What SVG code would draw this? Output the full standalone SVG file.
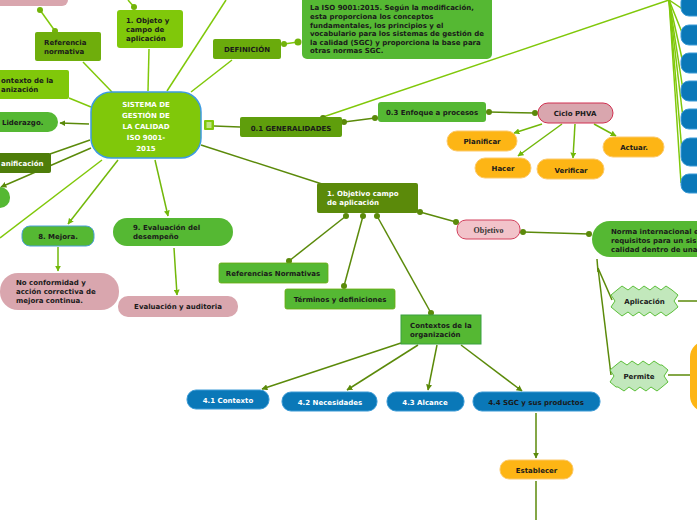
<svg xmlns="http://www.w3.org/2000/svg" width="697" height="520" viewBox="0 0 697 520">
<defs>
<marker id="ao" viewBox="0 0 10 10" refX="9" refY="5" markerWidth="6" markerHeight="6" orient="auto-start-reverse" markerUnits="userSpaceOnUse"><path d="M0,0 L10,5 L0,10 z" fill="#5b8a0a"/></marker>
<marker id="al" viewBox="0 0 10 10" refX="9" refY="5" markerWidth="6" markerHeight="6" orient="auto-start-reverse" markerUnits="userSpaceOnUse"><path d="M0,0 L10,5 L0,10 z" fill="#72b80a"/></marker>
<style>
text{font-family:"DejaVu Sans","Liberation Sans",sans-serif;font-weight:bold;font-size:7px;fill:#1a1a1a}
.c{text-anchor:middle}
.w{fill:#ffffff}
.mid{fill:#55b833}
.pink{fill:#d9a6ae}
.orange{fill:#fdb515;stroke:#fcc96a;stroke-width:1}
.blue{fill:#0a78b8;stroke:#3a9ad6;stroke-width:1}
.lo{stroke:#5b8a0a;stroke-width:1.5;fill:none}
.ll{stroke:#80c80a;stroke-width:1.5;fill:none}
.la{stroke:#72b80a;stroke-width:1.5;fill:none}
.dot{fill:#5b8a0a}
.dotl{fill:#72b30a}
</style>
</defs>

<g id="connectors">
<line class="ll" x1="167" y1="91" x2="226" y2="0"/>
<line class="ll" x1="149" y1="49" x2="148" y2="91"/>
<line class="ll" x1="83" y1="62" x2="112" y2="92"/>
<line class="ll" x1="191" y1="92" x2="232" y2="60"/>
<line class="ll" x1="69" y1="98" x2="91" y2="107"/>
<line class="lo" x1="89" y1="124" x2="60" y2="123" marker-end="url(#ao)"/>
<line class="lo" x1="90" y1="140" x2="50" y2="154"/>
<line class="lo" x1="91" y1="148" x2="1" y2="187" marker-end="url(#ao)"/>
<line class="ll" x1="102" y1="160" x2="0" y2="238"/>
<line class="la" x1="118" y1="160" x2="68" y2="224" marker-end="url(#al)"/>
<line class="la" x1="155" y1="160" x2="168" y2="216" marker-end="url(#al)"/>
<line class="lo" x1="201" y1="145" x2="322" y2="184"/>
<line class="lo" x1="214" y1="126" x2="240" y2="127"/>
<line class="ll" x1="40" y1="10" x2="55" y2="31"/>
<line class="ll" x1="134" y1="7" x2="128" y2="0"/>
<line class="ll" x1="284" y1="44" x2="298" y2="42"/>
<line class="la" x1="58" y1="247" x2="58" y2="271" marker-end="url(#al)"/>
<line class="la" x1="174" y1="248" x2="177" y2="295" marker-end="url(#al)"/>
<line class="ll" x1="323" y1="117" x2="669" y2="0"/>
<line class="lo" x1="344" y1="122" x2="375" y2="118"/>
<line class="lo" x1="489" y1="112" x2="535" y2="113"/>
<line class="ll" x1="669" y1="0" x2="684" y2="10"/>
<line class="ll" x1="669" y1="0" x2="683" y2="35"/>
<line class="ll" x1="669" y1="0" x2="683" y2="63"/>
<line class="ll" x1="669" y1="0" x2="683" y2="90"/>
<line class="ll" x1="669" y1="0" x2="683" y2="118"/>
<line class="ll" x1="669" y1="0" x2="682" y2="152"/>
<line class="ll" x1="669" y1="0" x2="681" y2="183"/>
<line class="la" x1="542" y1="124" x2="514" y2="133" marker-end="url(#al)"/>
<line class="la" x1="562" y1="124" x2="518" y2="156" marker-end="url(#al)"/>
<line class="la" x1="575" y1="124" x2="573" y2="158" marker-end="url(#al)"/>
<line class="la" x1="594" y1="124" x2="616" y2="136" marker-end="url(#al)"/>
<line class="lo" x1="346" y1="216" x2="289" y2="261"/>
<line class="lo" x1="363" y1="216" x2="344" y2="286"/>
<line class="lo" x1="377" y1="216" x2="431" y2="313"/>
<line class="lo" x1="420" y1="212" x2="456" y2="222"/>
<line class="lo" x1="523" y1="232" x2="589" y2="234"/>
<line class="lo" x1="597" y1="259" x2="598" y2="272"/>
<line class="lo" x1="598" y1="268" x2="612" y2="300"/>
<line class="lo" x1="598" y1="268" x2="611" y2="375"/>
<line class="lo" x1="678" y1="301" x2="697" y2="301"/>
<line class="lo" x1="668" y1="375" x2="691" y2="375"/>
<line class="lo" x1="401" y1="343" x2="262" y2="389" marker-end="url(#ao)"/>
<line class="lo" x1="418" y1="345" x2="347" y2="390" marker-end="url(#ao)"/>
<line class="lo" x1="437" y1="345" x2="428" y2="390" marker-end="url(#ao)"/>
<line class="lo" x1="461" y1="345" x2="522" y2="391" marker-end="url(#ao)"/>
<line class="lo" x1="536" y1="413" x2="536" y2="458" marker-end="url(#ao)"/>
<line class="lo" x1="536" y1="481" x2="536" y2="520"/>
<circle class="dotl" cx="40" cy="10" r="3"/>
<circle class="dotl" cx="55" cy="31" r="3"/>
<circle class="dotl" cx="134" cy="7" r="3"/>
<circle class="dotl" cx="284" cy="44" r="3"/>
<circle class="dotl" cx="298" cy="42" r="3.5"/>
<circle class="dot" cx="323" cy="118" r="3"/>
<circle class="dot" cx="344" cy="122" r="3"/>
<circle class="dot" cx="375" cy="118" r="3"/>
<circle class="dot" cx="489" cy="112" r="3"/>
<circle class="dot" cx="535" cy="113" r="3"/>
<circle class="dot" cx="346" cy="216" r="3"/>
<circle class="dot" cx="363" cy="216" r="3"/>
<circle class="dot" cx="377" cy="216" r="3"/>
<circle class="dot" cx="289" cy="261" r="3"/>
<circle class="dot" cx="344" cy="286" r="3"/>
<circle class="dot" cx="431" cy="313" r="3"/>
<circle class="dot" cx="420" cy="212" r="3"/>
<circle class="dot" cx="456" cy="222" r="3"/>
<circle class="dot" cx="523" cy="232" r="3"/>
<circle class="dot" cx="589" cy="234" r="3"/>
</g>

<g id="n-top-pink"><rect x="-10" y="-14" width="78" height="20" rx="6" class="pink"/></g>

<g id="n-central">
<rect x="91" y="92" width="110" height="66" rx="20" fill="#80c80a" stroke="#3d9be0" stroke-width="1.5"/>
<text class="c w" x="146" y="107" font-size="8.8">SISTEMA DE</text>
<text class="c w" x="146" y="118" font-size="8.8">GESTIÓN DE</text>
<text class="c w" x="146" y="129" font-size="8.8">LA CALIDAD</text>
<text class="c w" x="146" y="140" font-size="8.8">ISO 9001-</text>
<text class="c w" x="146" y="151" font-size="8.8">2015</text>
</g>

<g id="n-menu">
<rect x="204" y="120" width="10" height="10" rx="1" fill="#80c80a"/>
<path d="M206.5,123h5M206.5,125h5M206.5,127h5" stroke="#ffffff" stroke-width="1"/>
</g>

<g id="n-refnorm">
<rect x="35" y="32" width="66" height="29" rx="2" fill="#6fae0c"/>
<text x="44" y="45">Referencia</text>
<text x="44" y="54">normativa</text>
</g>

<g id="n-objeto">
<rect x="117" y="10" width="66" height="38" rx="3" fill="#80c80a"/>
<text x="126" y="23">1. Objeto y</text>
<text x="126" y="32">campo de</text>
<text x="126" y="41">aplicación</text>
</g>

<g id="n-definicion">
<rect x="213" y="39" width="68" height="20" rx="2" fill="#6aab0c"/>
<text class="c" x="247" y="52">DEFINICIÓN</text>
</g>

<g id="n-deftext">
<rect x="302" y="-8" width="190" height="67" rx="5" class="mid"/>
<text x="310" y="10" font-size="6.6">La ISO 9001:2015. Según la modificación,</text>
<text x="310" y="19" font-size="6.6">esta proporciona los conceptos</text>
<text x="310" y="27.5" font-size="6.6">fundamentales, los principios y el</text>
<text x="310" y="36" font-size="6.6">vocabulario para los sistemas de gestión de</text>
<text x="310" y="44.5" font-size="6.6">la calidad (SGC) y proporciona la base para</text>
<text x="310" y="53" font-size="6.6">otras normas SGC.</text>
</g>

<g id="n-contexto-org">
<rect x="-20" y="70" width="89" height="29" rx="2" fill="#80c80a"/>
<text x="1" y="83">ontexto de la</text>
<text x="1" y="92">anización</text>
</g>

<g id="n-liderazgo">
<rect x="-20" y="112" width="78" height="20" rx="10" class="mid"/>
<text x="2" y="125">Liderazgo.</text>
</g>

<g id="n-planificacion">
<rect x="-20" y="153" width="71" height="20" rx="2" fill="#4e7d0a"/>
<text class="w" x="1" y="166">anificación</text>
</g>

<g id="n-left-circle"><rect x="-20" y="187" width="30" height="21" rx="10" class="mid"/></g>

<g id="n-mejora">
<rect x="22" y="226" width="72" height="20" rx="8" class="mid" stroke="#4aa0d8" stroke-width="1"/>
<text class="c" x="58" y="239">8. Mejora.</text>
</g>

<g id="n-noconf">
<rect x="0" y="273" width="119" height="37" rx="18" class="pink"/>
<text x="16" y="285">No conformidad y</text>
<text x="16" y="294">acción correctiva de</text>
<text x="16" y="303">mejora continua.</text>
</g>

<g id="n-evaluacion">
<rect x="113" y="218" width="120" height="28" rx="14" class="mid"/>
<text x="133" y="230">9. Evaluación del</text>
<text x="133" y="239">desempeño</text>
</g>

<g id="n-auditoria">
<rect x="118" y="296" width="120" height="21" rx="10" class="pink"/>
<text class="c" x="178" y="309">Evaluación y auditoria</text>
</g>

<g id="n-generalidades">
<rect x="240" y="117" width="102" height="20" rx="2" fill="#5f9e0c"/>
<text class="c" x="291" y="130.5">0.1 GENERALIDADES</text>
</g>

<g id="n-enfoque">
<rect x="378" y="102" width="108" height="20" rx="3" class="mid"/>
<text class="c" x="432" y="115">0.3 Enfoque a procesos</text>
</g>

<g id="n-ciclo">
<rect x="538" y="103" width="75" height="20" rx="10" fill="#d9a6ae" stroke="#d03050" stroke-width="1"/>
<text class="c" x="575" y="116">Ciclo PHVA</text>
</g>

<g id="n-planificar"><rect x="447" y="131" width="70" height="20" rx="10" class="orange"/><text class="c" x="482" y="144">Planificar</text></g>
<g id="n-hacer"><rect x="475" y="158" width="56" height="20" rx="10" class="orange"/><text class="c" x="503" y="171">Hacer</text></g>
<g id="n-verificar"><rect x="537" y="159" width="67" height="20" rx="10" class="orange"/><text class="c" x="571" y="172.5">Verificar</text></g>
<g id="n-actuar"><rect x="603" y="137" width="61" height="20" rx="10" class="orange"/><text class="c" x="634" y="150">Actuar.</text></g>

<g id="n-blue-right">
<rect x="681" y="-6" width="30" height="22" rx="8" class="blue"/>
<rect x="681" y="25" width="30" height="20" rx="8" class="blue"/>
<rect x="681" y="53" width="30" height="20" rx="8" class="blue"/>
<rect x="681" y="81" width="30" height="20" rx="8" class="blue"/>
<rect x="681" y="109" width="30" height="20" rx="8" class="blue"/>
<rect x="681" y="138" width="30" height="28" rx="9" class="blue"/>
<rect x="681" y="174" width="30" height="19" rx="8" class="blue"/>
</g>

<g id="n-objetivo-campo">
<rect x="317" y="183" width="101" height="30" rx="2" fill="#5b8a0a"/>
<text class="w" x="327" y="196">1. Objetivo campo</text>
<text class="w" x="327" y="205">de aplicación</text>
</g>

<g id="n-refnormativas">
<rect x="219" y="263" width="109" height="20" rx="2" class="mid" stroke="#6aab0c" stroke-width="0.8"/>
<text class="c" x="273" y="276">Referencias Normativas</text>
</g>

<g id="n-terminos">
<rect x="285" y="289" width="110" height="20" rx="2" class="mid" stroke="#6aab0c" stroke-width="0.8"/>
<text class="c" x="340" y="302">Términos y definiciones</text>
</g>

<g id="n-contextos">
<rect x="401" y="315" width="80" height="29" fill="#55b833" stroke="#3aa040" stroke-width="1"/>
<text x="410" y="328">Contextos de la</text>
<text x="410" y="337">organización</text>
</g>

<g id="n-objetivo">
<rect x="457" y="220" width="63" height="19" rx="9" fill="#f2c3ca" stroke="#d2405c" stroke-width="1"/>
<text class="c" x="488.5" y="233" style="font-family:'Liberation Serif',serif;font-size:8px;fill:#333333">Objetivo</text>
</g>

<g id="n-norma">
<rect x="592" y="221" width="130" height="36" rx="18" class="mid"/>
<text x="611" y="234" font-size="6.1">Norma internacional e</text>
<text x="611" y="243" font-size="6.1">requisitos para un sis</text>
<text x="611" y="252" font-size="6.1">calidad dentro de una</text>
</g>

<g id="n-aplicacion">
<polygon points="617,290 622,286 628,290 633,286 639,290 644,286 650,290 655,286 661,290 666,286 672,290 678,295 674,301 678,307 672,312 666,316 661,312 655,316 650,312 644,316 639,312 633,316 628,312 622,316 617,312 611,307 615,301 611,295" fill="#c2e8bc" stroke="#5cbf3a" stroke-width="1"/>
<text class="c" x="644.5" y="304">Aplicación</text>
</g>

<g id="n-permite">
<polygon points="616,365 621,361 627,365 632,361 638,365 643,361 649,365 654,361 660,365 662,365 668,370 664,376 668,382 662,387 657,391 651,387 646,391 640,387 635,391 629,387 624,391 618,387 616,387 610,382 614,376 610,370" fill="#c2e8bc" stroke="#5cbf3a" stroke-width="1"/>
<text class="c" x="639" y="378.5">Permite</text>
</g>

<g id="n-orange-right"><rect x="690" y="341" width="40" height="71" rx="16" fill="#fdb515"/></g>

<g id="n-41"><rect x="187" y="390" width="82" height="19" rx="9" class="blue"/><text class="c w" x="228" y="403">4.1 Contexto</text></g>
<g id="n-42"><rect x="282" y="392" width="95" height="19" rx="9" class="blue"/><text class="c w" x="330" y="405">4.2 Necesidades</text></g>
<g id="n-43"><rect x="387" y="392" width="77" height="19" rx="9" class="blue"/><text class="c w" x="425" y="405">4.3 Alcance</text></g>
<g id="n-44"><rect x="473" y="392" width="127" height="19" rx="9" class="blue"/><text class="c" x="536" y="405">4.4 SGC y sus productos</text></g>

<g id="n-establecer"><rect x="500" y="460" width="73" height="19" rx="9" class="orange"/><text class="c" x="536.5" y="473">Establecer</text></g>
</svg>
